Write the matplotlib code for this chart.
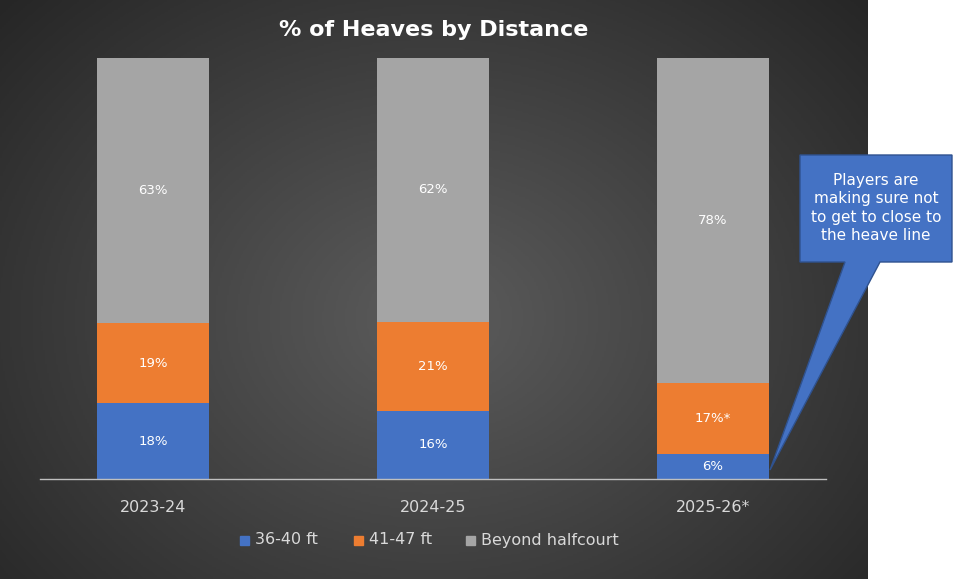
import numpy as np
import matplotlib.pyplot as plt
from matplotlib.patches import Polygon

seasons = ["2023-24", "2024-25", "2025-26*"]
close = [18, 16, 6]
mid = [19, 21, 17]
far = [63, 62, 78]
mid_labels = ["19%", "21%", "17%*"]
names = ["36-40 ft", "41-47 ft", "Beyond halfcourt"]
colors = ["#4472C4", "#ED7D31", "#A5A5A5"]

W, H = 954, 579
fig = plt.figure(figsize=(W / 100, H / 100), dpi=100)
fig.patch.set_facecolor("white")

# dark radial gradient backdrop
bg = fig.add_axes([0, 0, 868 / W, 1])
yy, xx = np.mgrid[0:1:300j, 0:1:450j]
r = np.sqrt(((xx - 0.5) * 1.2) ** 2 + (yy - 0.55) ** 2)
bg.imshow(np.clip(r, 0, 1), cmap=plt.cm.colors.LinearSegmentedColormap.from_list(
    "g", ["#5c5c5c", "#262626"]), aspect="auto", extent=[0, 1, 1, 0])
bg.axis("off")

ax = fig.add_axes([0, 1 - 479 / H, 868 / W, (479 - 58) / H])
ax.patch.set_alpha(0)
x = np.arange(len(seasons))
tot = np.array(close) + np.array(mid) + np.array(far)
c = np.array(close) / tot
m = np.array(mid) / tot
f = np.array(far) / tot
bottom = np.zeros(3)
for vals, col, labs in [(c, colors[0], [f"{v}%" for v in close]),
                        (m, colors[1], mid_labels),
                        (f, colors[2], [f"{v}%" for v in far])]:
    ax.bar(x, vals, 0.4, bottom=bottom, color=col)
    for xi, b, v, t in zip(x, bottom, vals, labs):
        ax.text(xi, b + v / 2, t, ha="center", va="center", color="white", fontsize=9.5)
    bottom += vals
ax.set_xlim(-153 / 280, (868 - 153) / 280)
ax.set_ylim(0, 1)
ax.axis("off")

fig.add_artist(plt.Line2D([40 / W, 826 / W], [1 - 479 / H] * 2, color="#bfbfbf", lw=1))
for xi, s in zip(x, seasons):
    fig.text((153 + 280 * xi) / W, 1 - 508 / H, s, ha="center", va="center",
             color="#d9d9d9", fontsize=11.5)
fig.text(434 / W, 1 - 30 / H, "% of Heaves by Distance", ha="center", va="center",
         color="white", fontsize=16, fontweight="bold")

# legend
lx = [240, 354, 466]
for px, n, col in zip(lx, names, colors):
    fig.add_artist(plt.Rectangle((px / W, 1 - 545 / H), 9 / W, 9 / H, color=col))
    fig.text((px + 15) / W, 1 - 540 / H, n, va="center", color="#d9d9d9", fontsize=11.5)

# callout
pts = [(800, 155), (952, 155), (952, 262), (880, 262), (770, 470), (845, 262), (800, 262)]
fig.add_artist(Polygon([(px / W, 1 - py / H) for px, py in pts], closed=True,
                       facecolor="#4472C4", edgecolor="#2F528F", lw=1))
fig.text(876 / W, 1 - 208 / H, "Players are\nmaking sure not\nto get to close to\nthe heave line",
         ha="center", va="center", color="white", fontsize=11, linespacing=1.3)

fig.savefig("out.png", dpi=100)
